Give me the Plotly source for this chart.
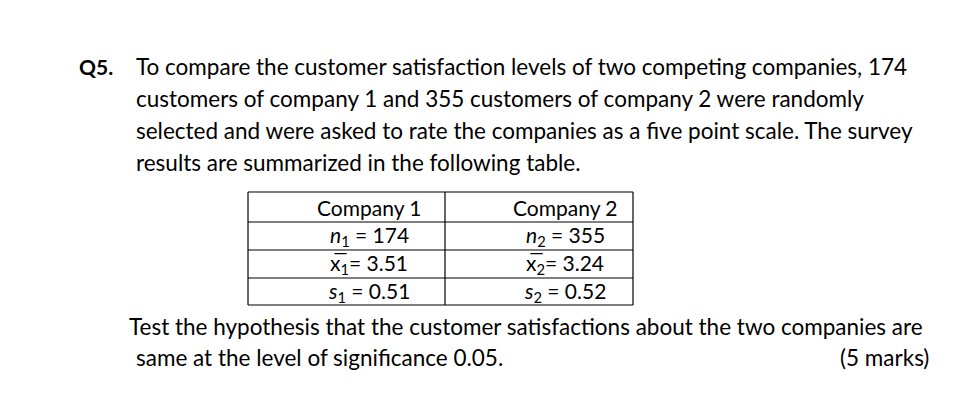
import plotly.graph_objects as go

question_label = "Q5."
question_lines = [
    "To compare the customer satisfaction levels of two competing companies, 174",
    "customers of company 1 and 355 customers of company 2 were randomly",
    "selected and were asked to rate the companies as a five point scale. The survey",
    "results are summarized in the following table.",
]
table_header = ["Company 1", "Company 2"]
table_rows = [
    ["<i>n</i><sub>1</sub> = 174", "<i>n</i><sub>2</sub> = 355"],
    ["x̅<sub>1</sub>= 3.51", "x̅<sub>2</sub>= 3.24"],
    ["<i>s</i><sub>1</sub> = 0.51", "<i>s</i><sub>2</sub> = 0.52"],
]
tail_lines = [
    "Test the hypothesis that the customer satisfactions about the two companies are",
    "same at the level of significance 0.05.",
]
marks = "(5 marks)"

FONT = "Lato"
O = 8  # page body margin offset
fig = go.Figure()
fig.update_xaxes(range=[O, 973 + O], visible=False, fixedrange=True)
fig.update_yaxes(range=[406 + O, O], visible=False, fixedrange=True)
fig.update_layout(width=973, height=406, margin=dict(l=0, r=0, t=0, b=0),
                  plot_bgcolor="white", paper_bgcolor="white", showlegend=False)

shapes = [dict(type="rect", x0=5, x1=967, y0=6, y1=430, line=dict(color="#777", width=1.5))]
anns = []
def txt(x, y, s, anchor="left", size=22.5, bold=False):
    anns.append(dict(x=x, y=y, text=f"<b>{s}</b>" if bold else s, showarrow=False,
                     xanchor=anchor, yanchor="middle", borderpad=0,
                     font=dict(family=FONT, size=size, color="black")))

txt(78, 66, question_label, bold=True, size=21)
line_y = [66, 98, 130, 162]
for y, s in zip(line_y, question_lines):
    txt(135, y, s)

# table
xl, xm, xr = 248, 445, 633
ys = [192, 222, 250, 278, 305]
for y in ys:
    shapes.append(dict(type="line", x0=xl, x1=xr, y0=y, y1=y, line=dict(color="black", width=1.2)))
for x in (xl, xm, xr):
    shapes.append(dict(type="line", x0=x, x1=x, y0=ys[0], y1=ys[-1], line=dict(color="black", width=1.2)))
centers = [369, 565]
all_rows = [table_header] + table_rows
for i, row in enumerate(all_rows):
    yc = (ys[i] + ys[i + 1]) / 2
    for c, s in zip(centers, row):
        txt(c, yc, s, anchor="center", size=21)

txt(128, 326, tail_lines[0])
txt(135, 357, tail_lines[1])
txt(930, 357, marks, anchor="right")

fig.update_layout(shapes=shapes, annotations=anns)
fig.write_html("out.html")
